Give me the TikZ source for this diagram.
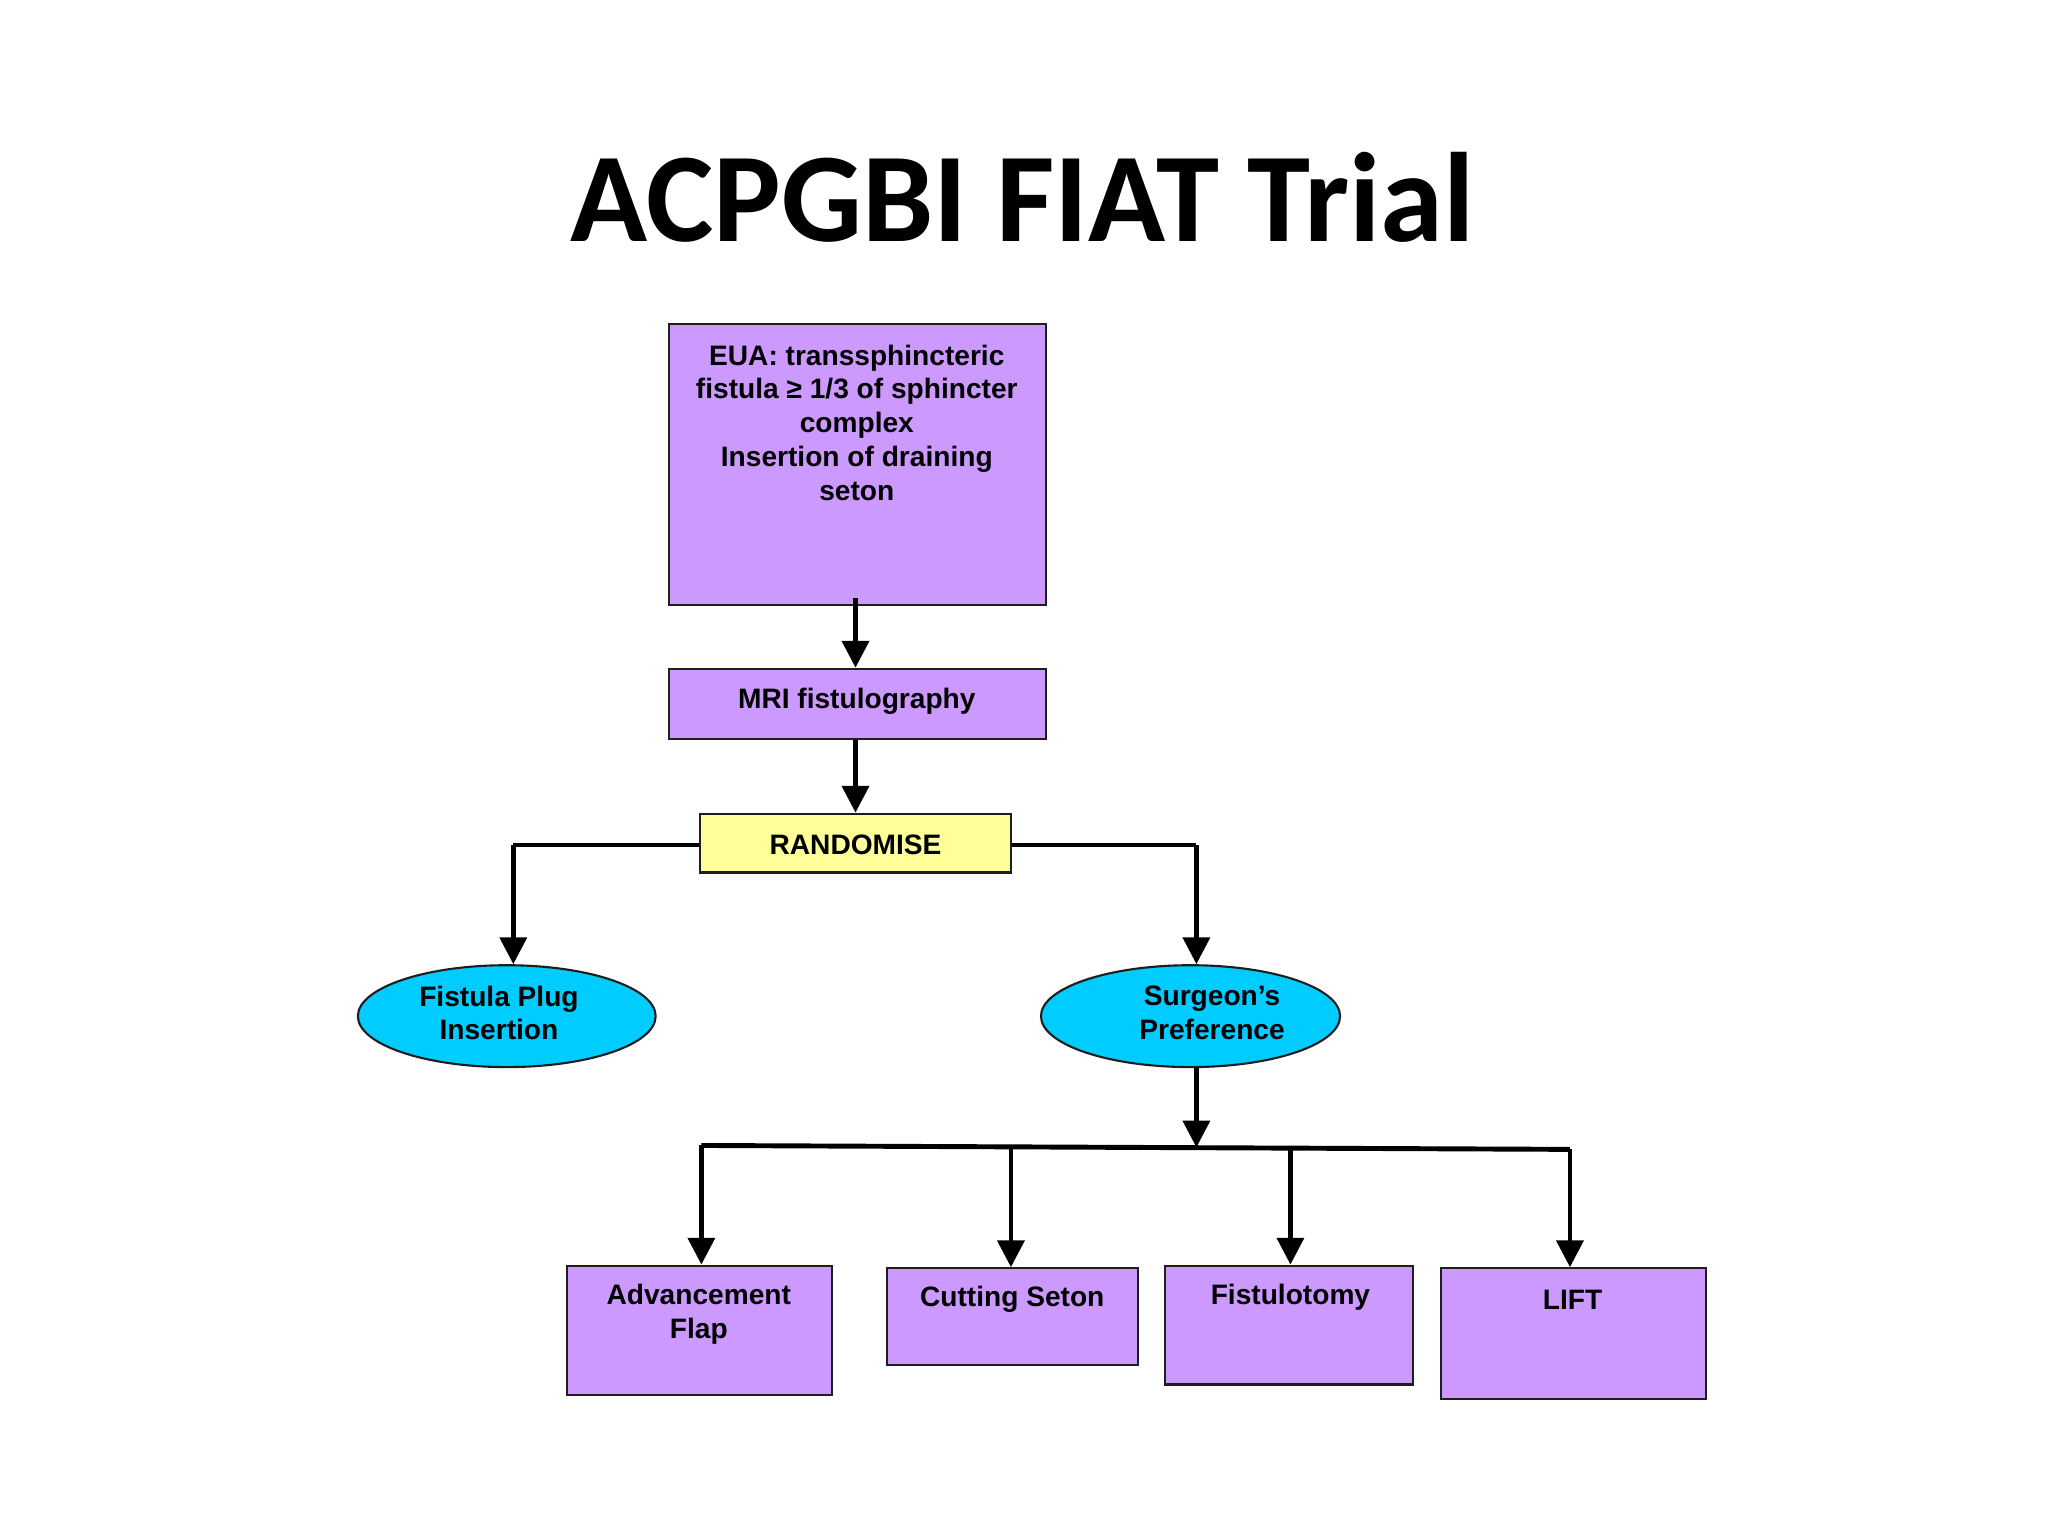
\documentclass[tikz,border=0pt]{standalone}
\usepackage{fontspec}
\setmainfont{Liberation Sans}
\newfontfamily\titlefont{Carlito}
\usetikzlibrary{arrows.meta,shapes.geometric,calc}
\definecolor{boxpurple}{HTML}{CC99FF}
\definecolor{ellcyan}{HTML}{00CCFF}
\definecolor{randyellow}{HTML}{FFFF99}
\definecolor{edgec}{HTML}{1E1E1E}
\begin{document}
\begin{tikzpicture}[x=0.0130612cm,y=-0.0130612cm,
  boxst/.style={draw=edgec,line width=0.6pt,fill=boxpurple,rectangle,inner sep=0pt},
  ellst/.style={draw=edgec,line width=0.6pt,fill=ellcyan,ellipse,inner sep=0pt},
  txt/.style={font=\bfseries\fontsize{8}{9.6}\selectfont,align=center,inner sep=0pt},
  arr/.style={line width=1.25pt,-{Triangle[width=7.6pt,length=7.6pt]}},
  ln/.style={line width=1.25pt}]
\useasboundingbox (0,0) rectangle (1568,1176);
\fill[white] (0,0) rectangle (1568,1176);
% title
\node[font=\titlefont\bfseries\fontsize{36.2}{38}\selectfont,anchor=base,inner sep=0pt] (title) at (783,185) {ACPGBI FIAT Trial};
% boxes
\node[boxst,minimum width=289*0.0130612cm,minimum height=215*0.0130612cm] (eua) at (656.5,355.5) {};
\node[txt] (euat) at (656,323.5) {EUA: transsphincteric\\fistula ≥ 1/3 of sphincter\\complex\\Insertion of draining\\seton};
\node[boxst,minimum width=289*0.0130612cm,minimum height=54*0.0130612cm] (mri) at (656.5,539) {};
\node[txt] (mrit) at (656,537) {MRI fistulography};
\node[boxst,fill=randyellow,minimum width=238*0.0130612cm,minimum height=45*0.0130612cm] (rand) at (655,645.5) {};
\node[txt] (randt) at (655,646.5) {RANDOMISE};
% ellipses
\node[ellst,minimum width=228*0.0130612cm,minimum height=78*0.0130612cm] (fpi) at (388,778) {};
\node[txt] (fpit) at (382,775.5) {Fistula Plug\\Insertion};
\node[ellst,minimum width=229*0.0130612cm,minimum height=78*0.0130612cm] (sp) at (911.5,778) {};
\node[txt] (spt) at (928,775.5) {Surgeon’s\\Preference};
% bottom boxes
\node[boxst,minimum width=203*0.0130612cm,minimum height=99*0.0130612cm] (adv) at (535.5,1018.5) {};
\node[txt] (advt) at (535,1006) {Advancement\\Flap};
\node[boxst,minimum width=192*0.0130612cm,minimum height=74*0.0130612cm] (cut) at (775,1008) {};
\node[txt] (cutt) at (775,995) {Cutting Seton};
\node[boxst,minimum width=190*0.0130612cm,minimum height=91*0.0130612cm] (fist) at (987,1014.5) {};
\node[txt] (fistt) at (988,993) {Fistulotomy};
\node[boxst,minimum width=203*0.0130612cm,minimum height=100*0.0130612cm] (lift) at (1204.5,1021) {};
\node[txt] (liftt) at (1204,995) {LIFT};
% connectors
\draw[arr] ($(eua.south)+(-1.5,-6)$) -- (mri.north -| 655,0);
\draw[arr] (mri.south -| 655,0) -- (rand.north);
\coordinate (lc) at (393,647);
\coordinate (rc) at (916,647);
\draw[ln] (rand.west |- lc) -- (lc);
\draw[arr] (lc) -- (fpi.north -| lc);
\draw[ln] (rand.east |- rc) -- (rc);
\draw[arr] (rc) -- (sp.north -| rc);
% bar
\coordinate (bL) at (537,877);
\coordinate (b2) at (774,878);
\coordinate (bj) at (916,878.5);
\coordinate (b3) at (988,879);
\coordinate (bR) at (1202,880);
\draw[arr] (sp.south -| bj) -- (bj);
\draw[line width=1.4pt] (bL) -- (bR);
\draw[arr] (bL) -- (adv.north -| bL);
\draw[arr] (b2) -- (cut.north -| b2);
\draw[arr] (b3) -- (fist.north -| b3);
\draw[arr] (bR) -- (lift.north -| bR);
\end{tikzpicture}
\end{document}
